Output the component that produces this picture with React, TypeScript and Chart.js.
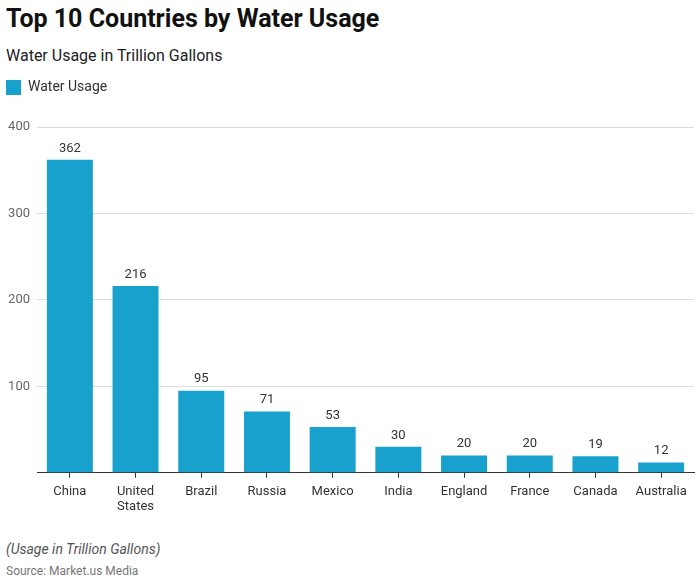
import React, { useEffect, useRef } from 'react';
import { Chart, registerables } from 'chart.js';

Chart.register(...registerables);

const countries = ['China', 'United States', 'Brazil', 'Russia', 'Mexico', 'India', 'England', 'France', 'Canada', 'Australia'];
const usage = [362, 216, 95, 71, 53, 30, 20, 20, 19, 12];
const yTicks = [0, 100, 200, 300, 400];

const barColor = '#19a1cd';

// draws the value above every bar
const valueLabels = {
  id: 'valueLabels',
  afterDatasetsDraw(chart: any) {
    const ctx = chart.ctx;
    const meta = chart.getDatasetMeta(0);
    ctx.save();
    ctx.font = '13px Roboto';
    ctx.fillStyle = '#333';
    ctx.textAlign = 'center';
    ctx.textBaseline = 'bottom';
    meta.data.forEach((bar: any, i: number) => {
      ctx.fillText(String(chart.data.datasets[0].data[i]), bar.x, bar.y - 5);
    });
    ctx.restore();
  },
};

// extra room under the legend
const legendSpace = {
  id: 'legendSpace',
  beforeInit(chart: any) {
    const fit = chart.legend.fit;
    chart.legend.fit = function () {
      fit.bind(chart.legend)();
      this.height += 22;
    };
  },
};

const App: React.FC = () => {
  const canvasRef = useRef<HTMLCanvasElement>(null);
  const chartRef = useRef<Chart | null>(null);

  useEffect(() => {
    if (!canvasRef.current) return;
    if (chartRef.current) chartRef.current.destroy();

    document.body.style.margin = '0';
    Chart.defaults.font.family = 'Roboto';

    chartRef.current = new Chart(canvasRef.current, {
      type: 'bar',
      data: {
        labels: countries.map(c => (c.includes(' ') ? c.split(' ') : c)),
        datasets: [{
          label: 'Water Usage',
          data: usage,
          backgroundColor: barColor,
          borderWidth: 0,
          barPercentage: 0.7,
          categoryPercentage: 1,
        }],
      },
      options: {
        responsive: true,
        maintainAspectRatio: false,
        animation: false,
        layout: { padding: { left: 0, right: 6, bottom: 3 } },
        plugins: {
          legend: {
            position: 'top',
            align: 'start',
            labels: {
              boxWidth: 15,
              boxHeight: 15,
              padding: 6,
              color: '#333',
              font: { size: 14 },
            },
          },
          tooltip: { enabled: false },
        },
        scales: {
          x: {
            grid: { offset: false, drawOnChartArea: false, tickLength: 5, color: '#333' },
            border: { color: '#333' },
            ticks: { color: '#333', font: { size: 13 }, padding: 6, maxRotation: 0 },
          },
          y: {
            min: yTicks[0],
            max: yTicks[yTicks.length - 1],
            afterBuildTicks: (scale: any) => {
              scale.ticks = yTicks.map(v => ({ value: v }));
            },
            afterFit: (scale: any) => {
              scale.width = 37;
            },
            grid: { color: '#dcdcdc', drawTicks: false },
            border: { display: false },
            ticks: {
              color: '#666',
              font: { size: 13 },
              padding: 7,
              callback: (v: any) => (v === 0 ? '' : v),
            },
          },
        },
      },
      plugins: [valueLabels, legendSpace],
    });

    return () => {
      if (chartRef.current) {
        chartRef.current.destroy();
        chartRef.current = null;
      }
    };
  }, []);

  return (
    <div style={{ position: 'relative', width: 700, height: 584, background: '#fff', fontFamily: 'Roboto' }}>
      <div style={{ position: 'absolute', left: 6, top: 4, fontSize: 25, fontWeight: 700, color: '#111' }}>
        Top 10 Countries by Water Usage
      </div>
      <div style={{ position: 'absolute', left: 6, top: 46, fontSize: 16, color: '#222' }}>
        Water Usage in Trillion Gallons
      </div>
      <div style={{ position: 'absolute', left: 0, top: 74, width: 700, height: 450 }}>
        <canvas ref={canvasRef}></canvas>
      </div>
      <div style={{ position: 'absolute', left: 6, top: 541, fontSize: 14, fontStyle: 'italic', color: '#555' }}>
        (Usage in Trillion Gallons)
      </div>
      <div style={{ position: 'absolute', left: 6, top: 564, fontSize: 12, color: '#777' }}>
        Source: Market.us Media
      </div>
    </div>
  );
};

export default App;
